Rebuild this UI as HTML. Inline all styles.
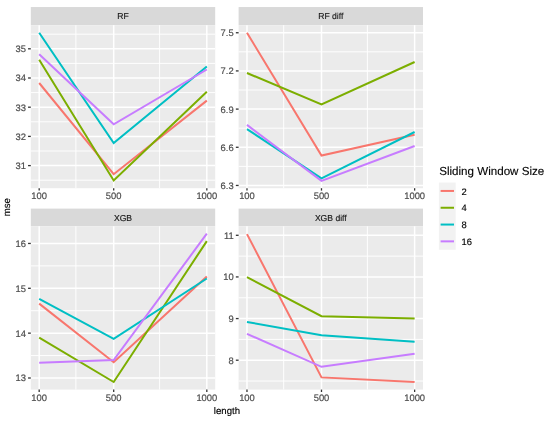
<!DOCTYPE html>
<html><head><meta charset="utf-8"><title>plot</title>
<style>
html,body{margin:0;padding:0;background:#fff;}
body{width:550px;height:421px;overflow:hidden;}
svg{display:block;}
text{font-family:"Liberation Sans",Arial,Helvetica,sans-serif;text-rendering:geometricPrecision;}
.ax{font-size:9.4px;fill:#4D4D4D;stroke:#4D4D4D;stroke-width:0.2px;}
.st{font-size:8.6px;fill:#1A1A1A;stroke:#1A1A1A;stroke-width:0.15px;}
.ti{font-size:9.6px;fill:#000;stroke:#000;stroke-width:0.15px;}
.lt{font-size:11.6px;fill:#000;stroke:#000;stroke-width:0.12px;}
.ll{font-size:9.4px;fill:#000;stroke:#000;stroke-width:0.15px;}
</style></head><body>
<svg width="550" height="421" viewBox="0 0 550 421">
<rect x="0" y="0" width="550" height="421" fill="#fff"/>
<g>
<rect x="30.80" y="7.05" width="184.40" height="18.15" fill="#D9D9D9"/>
<rect x="30.80" y="25.20" width="184.40" height="163.00" fill="#EBEBEB"/>
<line x1="30.80" x2="215.20" y1="180.20" y2="180.20" stroke="#fff" stroke-width="0.95"/>
<line x1="30.80" x2="215.20" y1="151.00" y2="151.00" stroke="#fff" stroke-width="0.95"/>
<line x1="30.80" x2="215.20" y1="121.80" y2="121.80" stroke="#fff" stroke-width="0.95"/>
<line x1="30.80" x2="215.20" y1="92.60" y2="92.60" stroke="#fff" stroke-width="0.95"/>
<line x1="30.80" x2="215.20" y1="63.40" y2="63.40" stroke="#fff" stroke-width="0.95"/>
<line x1="30.80" x2="215.20" y1="34.20" y2="34.20" stroke="#fff" stroke-width="0.95"/>
<line x1="75.90" x2="75.90" y1="25.20" y2="188.20" stroke="#fff" stroke-width="0.95"/>
<line x1="159.60" x2="159.60" y1="25.20" y2="188.20" stroke="#fff" stroke-width="0.95"/>
<line x1="30.80" x2="215.20" y1="165.60" y2="165.60" stroke="#fff" stroke-width="1.5"/>
<line x1="30.80" x2="215.20" y1="136.40" y2="136.40" stroke="#fff" stroke-width="1.5"/>
<line x1="30.80" x2="215.20" y1="107.20" y2="107.20" stroke="#fff" stroke-width="1.5"/>
<line x1="30.80" x2="215.20" y1="78.00" y2="78.00" stroke="#fff" stroke-width="1.5"/>
<line x1="30.80" x2="215.20" y1="48.80" y2="48.80" stroke="#fff" stroke-width="1.5"/>
<line x1="39.18" x2="39.18" y1="25.20" y2="188.20" stroke="#fff" stroke-width="1.5"/>
<line x1="113.69" x2="113.69" y1="25.20" y2="188.20" stroke="#fff" stroke-width="1.5"/>
<line x1="206.82" x2="206.82" y1="25.20" y2="188.20" stroke="#fff" stroke-width="1.5"/>
<polyline points="39.18,83.00 113.69,174.20 206.82,100.60" fill="none" stroke="#F8766D" stroke-width="2.0" stroke-linejoin="miter" stroke-miterlimit="10" stroke-linecap="butt"/>
<polyline points="39.18,59.70 113.69,180.50 206.82,91.70" fill="none" stroke="#7CAE00" stroke-width="2.0" stroke-linejoin="miter" stroke-miterlimit="10" stroke-linecap="butt"/>
<polyline points="39.18,32.80 113.69,143.00 206.82,66.50" fill="none" stroke="#00BFC4" stroke-width="2.0" stroke-linejoin="miter" stroke-miterlimit="10" stroke-linecap="butt"/>
<polyline points="39.18,54.20 113.69,124.30 206.82,69.50" fill="none" stroke="#C77CFF" stroke-width="2.0" stroke-linejoin="miter" stroke-miterlimit="10" stroke-linecap="butt"/>
<line x1="28.05" x2="30.80" y1="165.60" y2="165.60" stroke="#333" stroke-width="1.3"/>
<text class="ax" transform="translate(25.85,169.00)" text-anchor="end">31</text>
<line x1="28.05" x2="30.80" y1="136.40" y2="136.40" stroke="#333" stroke-width="1.3"/>
<text class="ax" transform="translate(25.85,139.80)" text-anchor="end">32</text>
<line x1="28.05" x2="30.80" y1="107.20" y2="107.20" stroke="#333" stroke-width="1.3"/>
<text class="ax" transform="translate(25.85,110.60)" text-anchor="end">33</text>
<line x1="28.05" x2="30.80" y1="78.00" y2="78.00" stroke="#333" stroke-width="1.3"/>
<text class="ax" transform="translate(25.85,81.40)" text-anchor="end">34</text>
<line x1="28.05" x2="30.80" y1="48.80" y2="48.80" stroke="#333" stroke-width="1.3"/>
<text class="ax" transform="translate(25.85,52.20)" text-anchor="end">35</text>
<line x1="39.18" x2="39.18" y1="188.20" y2="190.60" stroke="#333" stroke-width="1.3"/>
<text class="ax" transform="translate(39.18,199.40)" text-anchor="middle">100</text>
<line x1="113.69" x2="113.69" y1="188.20" y2="190.60" stroke="#333" stroke-width="1.3"/>
<text class="ax" transform="translate(113.69,199.40)" text-anchor="middle">500</text>
<line x1="206.82" x2="206.82" y1="188.20" y2="190.60" stroke="#333" stroke-width="1.3"/>
<text class="ax" transform="translate(206.82,199.40)" text-anchor="middle">1000</text>
<text class="st" transform="translate(123.00,19.23)" text-anchor="middle">RF</text>
</g>
<g>
<rect x="238.60" y="7.05" width="184.40" height="18.15" fill="#D9D9D9"/>
<rect x="238.60" y="25.20" width="184.40" height="163.00" fill="#EBEBEB"/>
<line x1="238.60" x2="423.00" y1="166.36" y2="166.36" stroke="#fff" stroke-width="0.95"/>
<line x1="238.60" x2="423.00" y1="128.19" y2="128.19" stroke="#fff" stroke-width="0.95"/>
<line x1="238.60" x2="423.00" y1="90.01" y2="90.01" stroke="#fff" stroke-width="0.95"/>
<line x1="238.60" x2="423.00" y1="51.84" y2="51.84" stroke="#fff" stroke-width="0.95"/>
<line x1="283.70" x2="283.70" y1="25.20" y2="188.20" stroke="#fff" stroke-width="0.95"/>
<line x1="367.40" x2="367.40" y1="25.20" y2="188.20" stroke="#fff" stroke-width="0.95"/>
<line x1="238.60" x2="423.00" y1="185.45" y2="185.45" stroke="#fff" stroke-width="1.5"/>
<line x1="238.60" x2="423.00" y1="147.28" y2="147.28" stroke="#fff" stroke-width="1.5"/>
<line x1="238.60" x2="423.00" y1="109.10" y2="109.10" stroke="#fff" stroke-width="1.5"/>
<line x1="238.60" x2="423.00" y1="70.92" y2="70.92" stroke="#fff" stroke-width="1.5"/>
<line x1="238.60" x2="423.00" y1="32.75" y2="32.75" stroke="#fff" stroke-width="1.5"/>
<line x1="246.98" x2="246.98" y1="25.20" y2="188.20" stroke="#fff" stroke-width="1.5"/>
<line x1="321.49" x2="321.49" y1="25.20" y2="188.20" stroke="#fff" stroke-width="1.5"/>
<line x1="414.62" x2="414.62" y1="25.20" y2="188.20" stroke="#fff" stroke-width="1.5"/>
<polyline points="246.98,32.80 321.49,155.60 414.62,134.80" fill="none" stroke="#F8766D" stroke-width="2.0" stroke-linejoin="miter" stroke-miterlimit="10" stroke-linecap="butt"/>
<polyline points="246.98,73.00 321.49,104.40 414.62,62.00" fill="none" stroke="#7CAE00" stroke-width="2.0" stroke-linejoin="miter" stroke-miterlimit="10" stroke-linecap="butt"/>
<polyline points="246.98,129.10 321.49,178.30 414.62,132.00" fill="none" stroke="#00BFC4" stroke-width="2.0" stroke-linejoin="miter" stroke-miterlimit="10" stroke-linecap="butt"/>
<polyline points="246.98,124.90 321.49,180.90 414.62,146.00" fill="none" stroke="#C77CFF" stroke-width="2.0" stroke-linejoin="miter" stroke-miterlimit="10" stroke-linecap="butt"/>
<line x1="235.85" x2="238.60" y1="185.45" y2="185.45" stroke="#333" stroke-width="1.3"/>
<text class="ax" transform="translate(233.65,188.85)" text-anchor="end">6.3</text>
<line x1="235.85" x2="238.60" y1="147.28" y2="147.28" stroke="#333" stroke-width="1.3"/>
<text class="ax" transform="translate(233.65,150.68)" text-anchor="end">6.6</text>
<line x1="235.85" x2="238.60" y1="109.10" y2="109.10" stroke="#333" stroke-width="1.3"/>
<text class="ax" transform="translate(233.65,112.50)" text-anchor="end">6.9</text>
<line x1="235.85" x2="238.60" y1="70.92" y2="70.92" stroke="#333" stroke-width="1.3"/>
<text class="ax" transform="translate(233.65,74.32)" text-anchor="end">7.2</text>
<line x1="235.85" x2="238.60" y1="32.75" y2="32.75" stroke="#333" stroke-width="1.3"/>
<text class="ax" transform="translate(233.65,36.15)" text-anchor="end">7.5</text>
<line x1="246.98" x2="246.98" y1="188.20" y2="190.60" stroke="#333" stroke-width="1.3"/>
<text class="ax" transform="translate(246.98,199.40)" text-anchor="middle">100</text>
<line x1="321.49" x2="321.49" y1="188.20" y2="190.60" stroke="#333" stroke-width="1.3"/>
<text class="ax" transform="translate(321.49,199.40)" text-anchor="middle">500</text>
<line x1="414.62" x2="414.62" y1="188.20" y2="190.60" stroke="#333" stroke-width="1.3"/>
<text class="ax" transform="translate(414.62,199.40)" text-anchor="middle">1000</text>
<text class="st" transform="translate(330.80,19.23)" text-anchor="middle">RF diff</text>
</g>
<g>
<rect x="30.80" y="208.60" width="184.40" height="17.70" fill="#D9D9D9"/>
<rect x="30.80" y="226.30" width="184.40" height="163.30" fill="#EBEBEB"/>
<line x1="30.80" x2="215.20" y1="355.57" y2="355.57" stroke="#fff" stroke-width="0.95"/>
<line x1="30.80" x2="215.20" y1="310.73" y2="310.73" stroke="#fff" stroke-width="0.95"/>
<line x1="30.80" x2="215.20" y1="265.88" y2="265.88" stroke="#fff" stroke-width="0.95"/>
<line x1="75.90" x2="75.90" y1="226.30" y2="389.60" stroke="#fff" stroke-width="0.95"/>
<line x1="159.60" x2="159.60" y1="226.30" y2="389.60" stroke="#fff" stroke-width="0.95"/>
<line x1="30.80" x2="215.20" y1="378.00" y2="378.00" stroke="#fff" stroke-width="1.5"/>
<line x1="30.80" x2="215.20" y1="333.15" y2="333.15" stroke="#fff" stroke-width="1.5"/>
<line x1="30.80" x2="215.20" y1="288.30" y2="288.30" stroke="#fff" stroke-width="1.5"/>
<line x1="30.80" x2="215.20" y1="243.45" y2="243.45" stroke="#fff" stroke-width="1.5"/>
<line x1="39.18" x2="39.18" y1="226.30" y2="389.60" stroke="#fff" stroke-width="1.5"/>
<line x1="113.69" x2="113.69" y1="226.30" y2="389.60" stroke="#fff" stroke-width="1.5"/>
<line x1="206.82" x2="206.82" y1="226.30" y2="389.60" stroke="#fff" stroke-width="1.5"/>
<polyline points="39.18,303.60 113.69,362.20 206.82,276.60" fill="none" stroke="#F8766D" stroke-width="2.0" stroke-linejoin="miter" stroke-miterlimit="10" stroke-linecap="butt"/>
<polyline points="39.18,337.60 113.69,382.00 206.82,241.10" fill="none" stroke="#7CAE00" stroke-width="2.0" stroke-linejoin="miter" stroke-miterlimit="10" stroke-linecap="butt"/>
<polyline points="39.18,298.80 113.69,338.90 206.82,278.50" fill="none" stroke="#00BFC4" stroke-width="2.0" stroke-linejoin="miter" stroke-miterlimit="10" stroke-linecap="butt"/>
<polyline points="39.18,362.80 113.69,360.00 206.82,233.70" fill="none" stroke="#C77CFF" stroke-width="2.0" stroke-linejoin="miter" stroke-miterlimit="10" stroke-linecap="butt"/>
<line x1="28.05" x2="30.80" y1="378.00" y2="378.00" stroke="#333" stroke-width="1.3"/>
<text class="ax" transform="translate(25.85,381.40)" text-anchor="end">13</text>
<line x1="28.05" x2="30.80" y1="333.15" y2="333.15" stroke="#333" stroke-width="1.3"/>
<text class="ax" transform="translate(25.85,336.55)" text-anchor="end">14</text>
<line x1="28.05" x2="30.80" y1="288.30" y2="288.30" stroke="#333" stroke-width="1.3"/>
<text class="ax" transform="translate(25.85,291.70)" text-anchor="end">15</text>
<line x1="28.05" x2="30.80" y1="243.45" y2="243.45" stroke="#333" stroke-width="1.3"/>
<text class="ax" transform="translate(25.85,246.85)" text-anchor="end">16</text>
<line x1="39.18" x2="39.18" y1="389.60" y2="392.00" stroke="#333" stroke-width="1.3"/>
<text class="ax" transform="translate(39.18,400.80)" text-anchor="middle">100</text>
<line x1="113.69" x2="113.69" y1="389.60" y2="392.00" stroke="#333" stroke-width="1.3"/>
<text class="ax" transform="translate(113.69,400.80)" text-anchor="middle">500</text>
<line x1="206.82" x2="206.82" y1="389.60" y2="392.00" stroke="#333" stroke-width="1.3"/>
<text class="ax" transform="translate(206.82,400.80)" text-anchor="middle">1000</text>
<text class="st" transform="translate(123.00,220.55)" text-anchor="middle">XGB</text>
</g>
<g>
<rect x="238.60" y="208.60" width="184.40" height="17.70" fill="#D9D9D9"/>
<rect x="238.60" y="226.30" width="184.40" height="163.30" fill="#EBEBEB"/>
<line x1="238.60" x2="423.00" y1="381.02" y2="381.02" stroke="#fff" stroke-width="0.95"/>
<line x1="238.60" x2="423.00" y1="339.38" y2="339.38" stroke="#fff" stroke-width="0.95"/>
<line x1="238.60" x2="423.00" y1="297.75" y2="297.75" stroke="#fff" stroke-width="0.95"/>
<line x1="238.60" x2="423.00" y1="256.12" y2="256.12" stroke="#fff" stroke-width="0.95"/>
<line x1="283.70" x2="283.70" y1="226.30" y2="389.60" stroke="#fff" stroke-width="0.95"/>
<line x1="367.40" x2="367.40" y1="226.30" y2="389.60" stroke="#fff" stroke-width="0.95"/>
<line x1="238.60" x2="423.00" y1="360.20" y2="360.20" stroke="#fff" stroke-width="1.5"/>
<line x1="238.60" x2="423.00" y1="318.57" y2="318.57" stroke="#fff" stroke-width="1.5"/>
<line x1="238.60" x2="423.00" y1="276.93" y2="276.93" stroke="#fff" stroke-width="1.5"/>
<line x1="238.60" x2="423.00" y1="235.30" y2="235.30" stroke="#fff" stroke-width="1.5"/>
<line x1="246.98" x2="246.98" y1="226.30" y2="389.60" stroke="#fff" stroke-width="1.5"/>
<line x1="321.49" x2="321.49" y1="226.30" y2="389.60" stroke="#fff" stroke-width="1.5"/>
<line x1="414.62" x2="414.62" y1="226.30" y2="389.60" stroke="#fff" stroke-width="1.5"/>
<polyline points="246.98,234.10 321.49,377.40 414.62,381.90" fill="none" stroke="#F8766D" stroke-width="2.0" stroke-linejoin="miter" stroke-miterlimit="10" stroke-linecap="butt"/>
<polyline points="246.98,277.10 321.49,316.20 414.62,318.50" fill="none" stroke="#7CAE00" stroke-width="2.0" stroke-linejoin="miter" stroke-miterlimit="10" stroke-linecap="butt"/>
<polyline points="246.98,321.90 321.49,335.20 414.62,341.70" fill="none" stroke="#00BFC4" stroke-width="2.0" stroke-linejoin="miter" stroke-miterlimit="10" stroke-linecap="butt"/>
<polyline points="246.98,333.80 321.49,366.80 414.62,353.70" fill="none" stroke="#C77CFF" stroke-width="2.0" stroke-linejoin="miter" stroke-miterlimit="10" stroke-linecap="butt"/>
<line x1="235.85" x2="238.60" y1="360.20" y2="360.20" stroke="#333" stroke-width="1.3"/>
<text class="ax" transform="translate(233.65,363.60)" text-anchor="end">8</text>
<line x1="235.85" x2="238.60" y1="318.57" y2="318.57" stroke="#333" stroke-width="1.3"/>
<text class="ax" transform="translate(233.65,321.97)" text-anchor="end">9</text>
<line x1="235.85" x2="238.60" y1="276.93" y2="276.93" stroke="#333" stroke-width="1.3"/>
<text class="ax" transform="translate(233.65,280.33)" text-anchor="end">10</text>
<line x1="235.85" x2="238.60" y1="235.30" y2="235.30" stroke="#333" stroke-width="1.3"/>
<text class="ax" transform="translate(233.65,238.70)" text-anchor="end">11</text>
<line x1="246.98" x2="246.98" y1="389.60" y2="392.00" stroke="#333" stroke-width="1.3"/>
<text class="ax" transform="translate(246.98,400.80)" text-anchor="middle">100</text>
<line x1="321.49" x2="321.49" y1="389.60" y2="392.00" stroke="#333" stroke-width="1.3"/>
<text class="ax" transform="translate(321.49,400.80)" text-anchor="middle">500</text>
<line x1="414.62" x2="414.62" y1="389.60" y2="392.00" stroke="#333" stroke-width="1.3"/>
<text class="ax" transform="translate(414.62,400.80)" text-anchor="middle">1000</text>
<text class="st" transform="translate(330.80,220.55)" text-anchor="middle">XGB diff</text>
</g>
<text class="ti" x="226.9" y="414.0" text-anchor="middle">length</text>
<text class="ti" transform="translate(10.2,207.3) rotate(-90)" text-anchor="middle">mse</text>
<text class="lt" x="439.2" y="175.3">Sliding Window Size</text>
<rect x="438.90" y="182.55" width="16.8" height="67.20" fill="#F2F2F2"/>
<line x1="440.60" x2="454.00" y1="190.95" y2="190.95" stroke="#F8766D" stroke-width="2.0"/>
<text class="ll" x="461.60" y="194.55">2</text>
<line x1="440.60" x2="454.00" y1="207.75" y2="207.75" stroke="#7CAE00" stroke-width="2.0"/>
<text class="ll" x="461.60" y="211.35">4</text>
<line x1="440.60" x2="454.00" y1="224.55" y2="224.55" stroke="#00BFC4" stroke-width="2.0"/>
<text class="ll" x="461.60" y="228.15">8</text>
<line x1="440.60" x2="454.00" y1="241.35" y2="241.35" stroke="#C77CFF" stroke-width="2.0"/>
<text class="ll" x="461.60" y="244.95">16</text>
</svg>
</body></html>
